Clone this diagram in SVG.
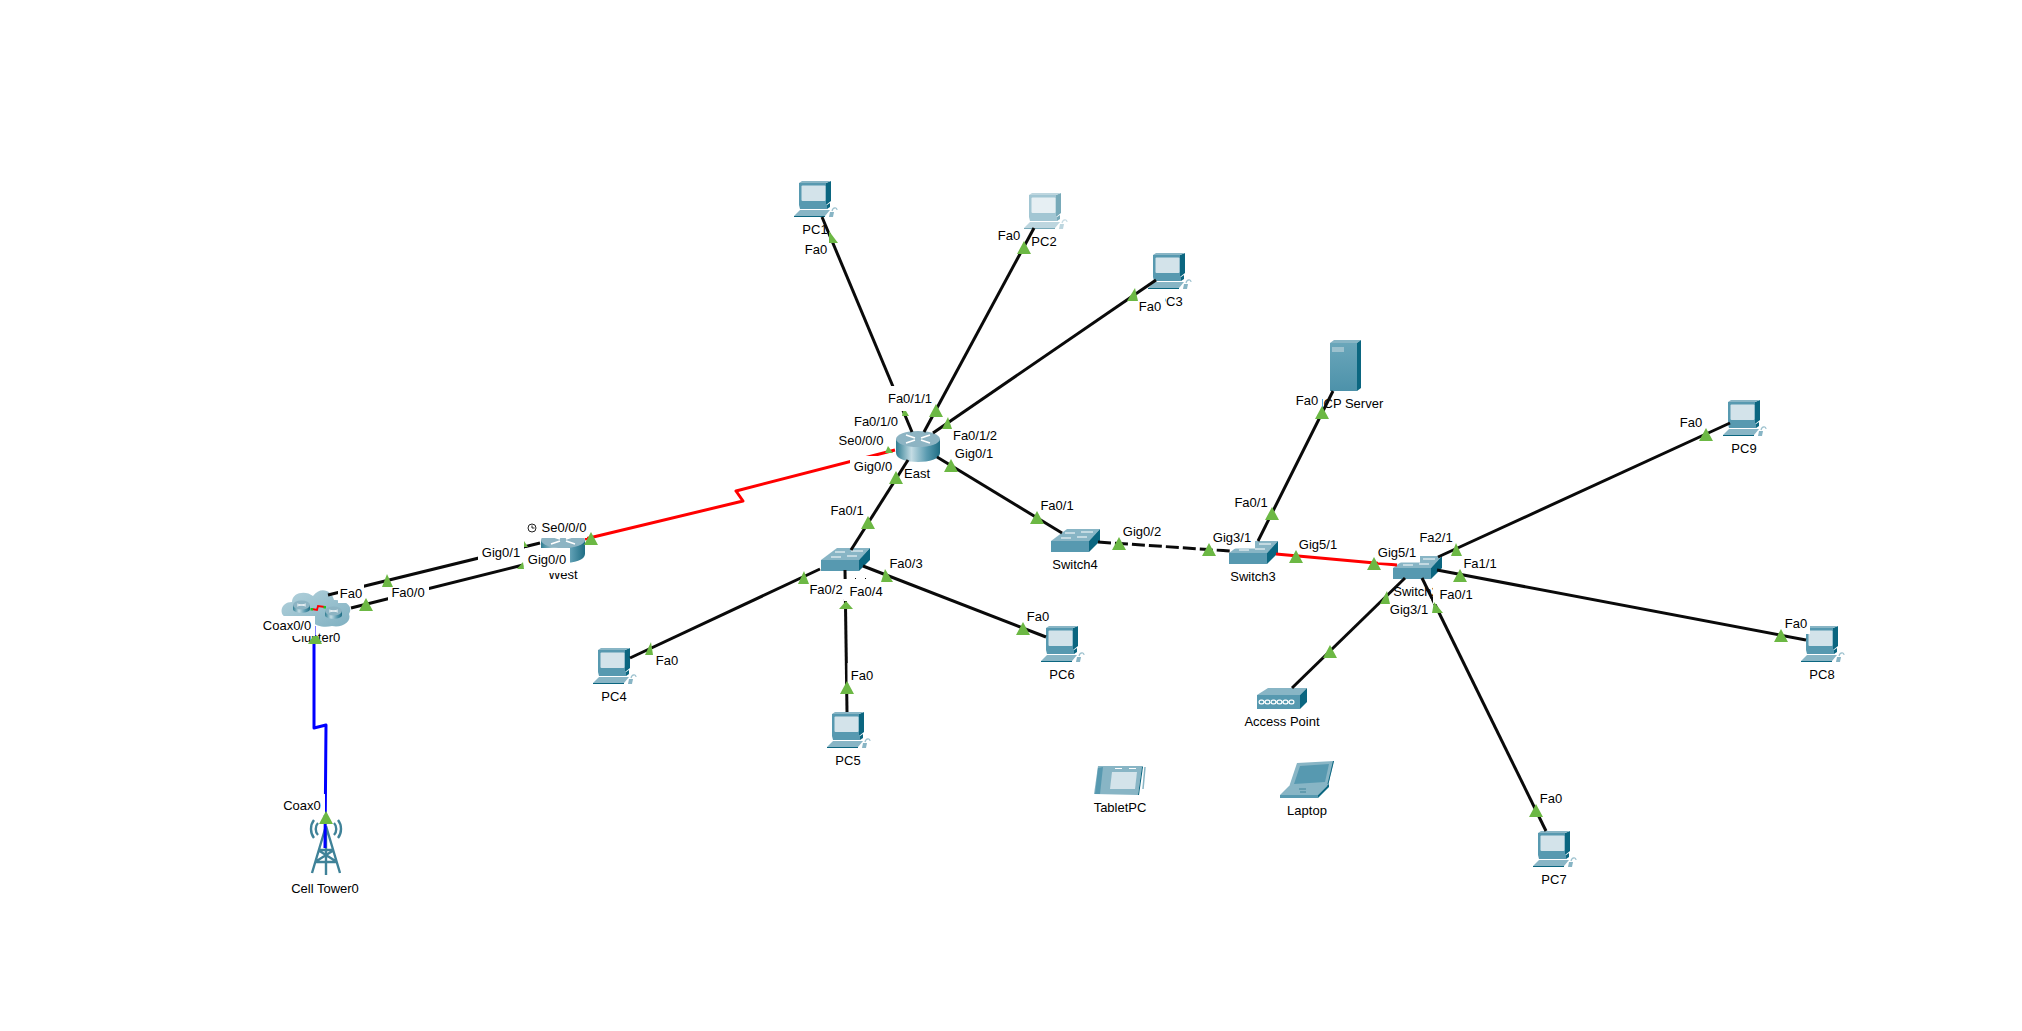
<svg xmlns="http://www.w3.org/2000/svg" width="2022" height="1031" viewBox="0 0 2022 1031">
<style>
text{font-family:"Liberation Sans",Arial,sans-serif;font-size:13px;fill:#000;text-anchor:middle;dominant-baseline:central}
.bg{fill:#fff}
.k,.r,.u{fill:none;stroke-width:3;stroke-linejoin:round}
.k{stroke:#0a0a0a}
.r{stroke:#f00}
.u{stroke:#00f}
.d{stroke-dasharray:13 4}
.g{fill:#6cb844}
.f{fill:#5799b0}
.p{fill:#88b5c5}
.s{fill:#0b6680}
.w{fill:#d3e3ea}
.tw{fill:none;stroke:#3f8298;stroke-width:2.4}
</style>
<defs>
<linearGradient id="cyl" x1="0" x2="1" y1="0" y2="0"><stop offset="0" stop-color="#2f7d92"/><stop offset=".35" stop-color="#c4dce4"/><stop offset=".7" stop-color="#5a9bb0"/><stop offset="1" stop-color="#1f6d84"/></linearGradient>
<linearGradient id="cld" x1="0" x2="1" y1="0" y2="1"><stop offset="0" stop-color="#b4d2dc"/><stop offset="1" stop-color="#7fb0c1"/></linearGradient>
<linearGradient id="srv" x1="0" x2="0" y1="0" y2="1"><stop offset="0" stop-color="#6aa6ba"/><stop offset="1" stop-color="#4d92aa"/></linearGradient>
<polygon id="tri" class="g" points="-7,0 7,0 0,-13"/>
<g id="pc">
<polygon class="s" points="32,2 37,0 37,20 32,24"/>
<polygon class="p" points="5,2 8,0 37,0 32,2"/>
<rect class="f" x="5" y="2" width="27" height="22"/>
<rect class="w" x="7.5" y="4.5" width="24" height="15.5" rx="1"/>
<polygon class="f" points="5,24 34,24 33,28 6,28"/>
<polygon class="s" points="33,24 36,22 36,26 33,28"/>
<polygon class="p" points="6,29 36,29 31,35 0,35"/>
<polygon class="s" points="0,35 31,35 31,36 0,36"/>
<polygon class="p" points="36,31 40,31 39,36 35,36"/>
<path d="M38,30 C39,26 43,26 43,29" fill="none" stroke="#9cc1ce" stroke-width="1.2"/>
</g>
<g id="router">
<path d="M0,8 V22 C0,34 44,34 44,22 V8 Z" fill="url(#cyl)"/>
<ellipse cx="22" cy="8" rx="22" ry="8" fill="#8db4c3"/>
<path d="M10,4 L19,7 M34,4 L25,7 M10,12 L19,9 M34,12 L25,9" stroke="#fff" stroke-width="1.6" fill="none"/>
</g>
<g id="switch">
<polygon class="p" points="0,12 16,0 49,0 38,12"/>
<rect class="f" x="0" y="12" width="38" height="11"/>
<polygon class="s" points="38,12 49,0 49,12 38,23"/>
<path d="M14,4 H24 M30,3 H42 M10,9 H20 M26,8 H36" stroke="#fff" stroke-width="1" fill="none"/>
</g>
<g id="minir">
<path d="M0,5 V9 C0,14 17,14 17,9 V5 Z" fill="url(#cyl)"/>
<ellipse cx="8.5" cy="5" rx="8.5" ry="4.5" fill="#8db4c3"/>
<path d="M4,4 L13,6 M13,4 L4,6" stroke="#fff" stroke-width=".8"/>
</g>
</defs>
<rect width="2022" height="1031" fill="#fff"/>

<g id="pc1"><use href="#pc" x="794" y="181"/><text x="815" y="229">PC1</text></g>
<g id="pc2" opacity=".55"><use href="#pc" x="1024" y="193"/></g>
<g id="pc2-label"><text x="1044" y="241">PC2</text></g>
<g id="pc3"><use href="#pc" x="1148" y="253"/><text x="1170" y="301">PC3</text></g>
<g id="pc4"><use href="#pc" x="593" y="648"/><text x="614" y="696">PC4</text></g>
<g id="pc5"><use href="#pc" x="827" y="712"/><text x="848" y="760">PC5</text></g>
<g id="pc6"><use href="#pc" x="1041" y="626"/><text x="1062" y="674">PC6</text></g>
<g id="pc7"><use href="#pc" x="1533" y="831"/><text x="1554" y="879">PC7</text></g>
<g id="pc8"><use href="#pc" x="1801" y="626"/><text x="1822" y="674">PC8</text></g>
<g id="pc9"><use href="#pc" x="1723" y="400"/><text x="1744" y="448">PC9</text></g>
<g id="east"><use href="#router" x="896" y="431"/><text x="917" y="473">East</text></g>
<g id="west"><use href="#router" x="541" y="532"/><text x="563" y="574">West</text></g>
<g id="switch1"><use href="#switch" x="821" y="548"/><rect x="855" y="578" width="1" height="1"/><rect x="865" y="578" width="1" height="1"/></g>
<g id="switch4"><use href="#switch" x="1051" y="529"/><text x="1075" y="564">Switch4</text></g>
<g id="switch3"><use href="#switch" x="1229" y="541"/><text x="1253" y="576">Switch3</text></g>
<g id="switch2"><use href="#switch" x="1393" y="556"/><text x="1416" y="591">Switch2</text></g>
<g id="server">
<polygon class="p" points="1330,343 1334,340 1361,340 1357,343"/>
<rect x="1330" y="343" width="27" height="48" fill="url(#srv)"/>
<polygon class="s" points="1357,343 1361,340 1361,388 1357,391"/>
<rect x="1332" y="347" width="12" height="5" fill="#9cc1ce"/>
<text x="1344" y="403">DHCP Server</text>
</g>
<g id="access-point">
<polygon class="p" points="1257,695 1268,688 1307,688 1300,695"/>
<rect class="f" x="1257" y="695" width="43" height="14"/>
<polygon class="s" points="1300,695 1307,688 1307,702 1300,709"/>
<path d="M1261,702 h36" stroke="#fff" stroke-width="5" stroke-dasharray="1 5" stroke-linecap="round" fill="none"/>
<path d="M1261,702 h36" stroke="#5799b0" stroke-width="2.6" stroke-dasharray="1 5" stroke-linecap="round" fill="none"/>
<text x="1282" y="721">Access Point</text>
</g>
<g id="tablet">
<polygon class="p" points="1098,766 1142,766 1138,795 1094,794"/>
<polygon class="f" points="1098,768 1103,767 1100,794 1095,794"/>
<polygon class="w" points="1112,772 1137,772 1135,789 1110,789"/>
<polygon class="s" points="1142,766 1143,767 1139,795 1138,795"/>
<path d="M1145,767 L1143,789" stroke="#88b5c5" stroke-width="1.5"/>
<path d="M1115,768.5 H1122 M1129,768.5 H1136" stroke="#fff" stroke-width="1"/>
<text x="1120" y="807">TabletPC</text>
</g>
<g id="laptop">
<polygon class="p" points="1297,763 1334,761 1328,785 1289,787"/>
<polygon class="f" points="1300,766 1329,764 1325,782 1294,784"/>
<polygon class="s" points="1333,761 1334,761 1328,786 1327,786"/>
<polygon class="p" points="1289,786 1329,784 1318,795 1280,795"/>
<polygon class="f" points="1280,795 1318,795 1318,798 1280,798"/>
<polygon class="s" points="1318,795 1329,784 1329,787 1318,798"/>
<path d="M1299,789 H1306 M1300,792 H1306" stroke="#3f8298" stroke-width="1"/>
<text x="1307" y="810">Laptop</text>
</g>
<g id="cluster0">
<path d="M288,618 C278,616 280,602 292,602 C292,592 306,590 313,596 C320,586 332,590 334,600 C345,600 354,606 349,614 C352,622 342,628 332,626 C324,628 316,626 312,622 C304,624 294,622 288,618 Z" fill="url(#cld)"/>
<use href="#minir" x="293" y="600"/>
<use href="#minir" x="325" y="606"/>
<polyline points="312,609 317,610 318,606 325,607" fill="none" stroke="#f00" stroke-width="1.8"/>
<rect x="310.500" y="608" width="2.500" height="2.500" fill="#1ec41e"/>
<rect x="323.500" y="606" width="2.500" height="2.500" fill="#1ec41e"/>
<text x="316" y="637">Cluster0</text>
</g>
<g id="cell-tower0">
<path class="tw" d="M326,826 L312,873 M326,826 L340,873 M326,826 V875 M318,850 H334 M315,862 H337 M318,850 L337,862 M334,850 L315,862"/>
<path class="tw" d="M318,823 C315,826 315,832 318,835 M314,820 C310,825 310,833 314,838 M334,823 C337,826 337,832 334,835 M338,820 C342,825 342,833 338,838"/>
<text x="325" y="888">Cell Tower0</text>
</g>

<g id="connectors">
<line class="k" x1="822" y1="217" x2="912" y2="432"/>
<line class="k" x1="1034" y1="228" x2="924" y2="432"/>
<line class="k" x1="1156" y1="280" x2="933" y2="433"/>
<line class="k" x1="908" y1="460" x2="851" y2="550"/>
<line class="k" x1="937" y1="457" x2="1062" y2="533"/>
<polyline class="r" points="585,539 743,501 736,491 895,450"/>
<line class="k" x1="540" y1="543" x2="328" y2="595"/>
<line class="k" x1="523" y1="565" x2="351" y2="608"/>
<polyline class="u" points="314,626 314,728 326,725 325,848"/>
<line class="k" x1="820" y1="569" x2="630" y2="658"/>
<line class="k" x1="863" y1="566" x2="1046" y2="637"/>
<line class="k" x1="845" y1="570" x2="847" y2="712"/>
<line class="k d" x1="1098" y1="542" x2="1230" y2="551"/>
<line class="r" x1="1276" y1="554" x2="1397" y2="565"/>
<line class="k" x1="1333" y1="391" x2="1258" y2="541"/>
<line class="k" x1="1438" y1="557" x2="1730" y2="423"/>
<line class="k" x1="1437" y1="570" x2="1806" y2="640"/>
<line class="k" x1="1422" y1="578" x2="1546" y2="831"/>
<line class="k" x1="1405" y1="578" x2="1292" y2="688"/>
</g>

<g id="port-labels">
<rect class="bg" x="803" y="239" width="26" height="20"/><text x="816" y="249">Fa0</text>
<rect class="bg" x="996" y="225" width="26" height="20"/><text x="1009" y="235">Fa0</text>
<rect class="bg" x="1138" y="295" width="27" height="21"/><text x="1150" y="306">Fa0</text>
<rect class="bg" x="888" y="386" width="45" height="25"/><text x="910" y="398">Fa0/1/1</text>
<rect class="bg" x="854" y="411" width="45" height="20"/><text x="876" y="421">Fa0/1/0</text>
<rect class="bg" x="838" y="430" width="47" height="20"/><text x="861" y="440">Se0/0/0</text>
<rect class="bg" x="850" y="456" width="43" height="20"/><text x="873" y="466">Gig0/0</text>
<rect class="bg" x="952" y="425" width="46" height="19"/><text x="975" y="435">Fa0/1/2</text>
<rect class="bg" x="954" y="444" width="40" height="18"/><text x="974" y="453">Gig0/1</text>
<rect class="bg" x="478" y="541" width="46" height="20"/><text x="501" y="552">Gig0/1</text>
<rect class="bg" x="525" y="548" width="45" height="25"/><text x="547" y="559">Gig0/0</text>
<rect class="bg" x="541" y="517" width="46" height="21"/><text x="564" y="527">Se0/0/0</text>
<circle cx="532" cy="528" r="4" fill="none" stroke="#222" stroke-width="1"/><path d="M532,525.500 V528 H534.500" fill="none" stroke="#222" stroke-width="1"/>
<rect class="bg" x="338" y="583" width="26" height="20"/><text x="351" y="593">Fa0</text>
<rect class="bg" x="388" y="583" width="41" height="19"/><text x="408" y="592">Fa0/0</text>
<rect class="bg" x="262" y="616" width="53" height="20"/><text x="287" y="625">Coax0/0</text>
<rect class="bg" x="283" y="794" width="42" height="21"/><text x="302" y="805">Coax0</text>
<rect class="bg" x="809" y="579" width="36" height="20"/><text x="826" y="589">Fa0/2</text>
<rect class="bg" x="844" y="579" width="40" height="22"/><text x="866" y="591">Fa0/4</text>
<rect class="bg" x="889" y="553" width="36" height="15"/><text x="906" y="563">Fa0/3</text>
<rect class="bg" x="829" y="500" width="37" height="20"/><text x="847" y="510">Fa0/1</text>
<rect class="bg" x="1040" y="495" width="36" height="19"/><text x="1057" y="505">Fa0/1</text>
<rect class="bg" x="1025" y="606" width="27" height="20"/><text x="1038" y="616">Fa0</text>
<rect class="bg" x="654" y="650" width="27" height="20"/><text x="667" y="660">Fa0</text>
<rect class="bg" x="847.500" y="663" width="29" height="20"/><text x="862" y="675">Fa0</text>
<rect class="bg" x="1122" y="521" width="40" height="20"/><text x="1142" y="531">Gig0/2</text>
<rect class="bg" x="1210" y="526" width="45" height="22.500"/><text x="1232" y="537">Gig3/1</text>
<rect class="bg" x="1233" y="492" width="37" height="20"/><text x="1251" y="502">Fa0/1</text>
<rect class="bg" x="1299" y="534" width="39" height="19"/><text x="1318" y="544">Gig5/1</text>
<rect class="bg" x="1378" y="542" width="42" height="20.500"/><text x="1397" y="552">Gig5/1</text>
<rect class="bg" x="1416" y="527" width="36" height="21"/><text x="1436" y="537">Fa2/1</text>
<rect class="bg" x="1462" y="553" width="36" height="16"/><text x="1480" y="563">Fa1/1</text>
<rect class="bg" x="1433" y="584" width="43" height="20"/><text x="1456" y="594">Fa0/1</text>
<rect class="bg" x="1389" y="599" width="42" height="20"/><text x="1409" y="609">Gig3/1</text>
<rect class="bg" x="1291" y="390" width="31" height="20"/><text x="1307" y="400">Fa0</text>
<rect class="bg" x="1678" y="412" width="27" height="20"/><text x="1691" y="422">Fa0</text>
<rect class="bg" x="1783" y="613" width="27" height="21"/><text x="1796" y="623">Fa0</text>
<rect class="bg" x="1538" y="788" width="27" height="16"/><text x="1551" y="798">Fa0</text>
</g>

<g id="link-lights">
<polygon class="g" points="829,231 838,243 829,243"/>
<use href="#tri" x="1024" y="254"/>
<polygon class="g" points="1135,288 1138,301 1127,301"/>
<polygon class="g" points="903,411 906,411 909,416 902,416"/>
<use href="#tri" x="936" y="417"/>
<polygon class="g" points="948,417 952,429 942,429"/>
<polygon class="g" points="888,446 893,453 885,453"/>
<use href="#tri" x="896" y="484"/>
<use href="#tri" x="951" y="472"/>
<use href="#tri" x="591" y="545"/>
<polygon class="g" points="524,541 528,547 524,547"/>
<polygon class="g" points="523,562 524,569 517,569"/>
<polygon class="g" points="387,574 393,587 382,587"/>
<use href="#tri" x="366" y="611"/>
<polygon class="g" points="313,636 318,636 322,644 308,644"/>
<use href="#tri" x="326" y="824"/>
<use href="#tri" x="868" y="529"/>
<polygon class="g" points="804,571 809,584 798,584"/>
<polygon class="g" points="885,569 893,582 881,582"/>
<polygon class="g" points="846,601 853,609 839,609"/>
<use href="#tri" x="847" y="694"/>
<use href="#tri" x="1023" y="635"/>
<polygon class="g" points="651,642 653,655 645,655"/>
<use href="#tri" x="1037" y="524"/>
<use href="#tri" x="1119" y="550"/>
<use href="#tri" x="1209" y="556"/>
<use href="#tri" x="1272" y="520"/>
<use href="#tri" x="1296" y="563"/>
<use href="#tri" x="1374" y="570"/>
<polygon class="g" points="1456,543 1462,556 1451,556"/>
<use href="#tri" x="1460" y="582"/>
<polygon class="g" points="1434,602 1443,613 1432,613"/>
<polygon class="g" points="1387,591 1390,604 1380,604"/>
<use href="#tri" x="1330" y="658"/>
<use href="#tri" x="1322" y="419"/>
<use href="#tri" x="1706" y="441"/>
<use href="#tri" x="1781" y="642"/>
<use href="#tri" x="1536" y="817"/>
</g>
</svg>
